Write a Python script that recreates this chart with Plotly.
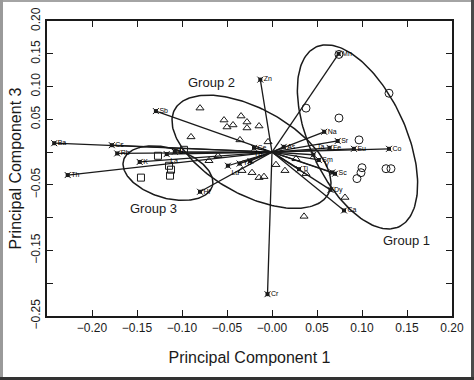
import numpy as np
import plotly.graph_objects as go

# ---- element loadings (biplot vectors) ----
elements = ["Ba", "Cs", "Rb", "Th", "K", "Sb", "Zn", "Mn", "Na", "Sr", "Fe", "Eu", "Co",
            "Ce", "Sm", "Sc", "V", "Ti", "Dy", "Ca", "Cr", "Hf", "Lu", "Yb", "Tb",
            "La", "U", "As", "Ta"]
load_x = [-0.242, -0.178, -0.172, -0.227, -0.147, -0.129, -0.013, 0.074, 0.058, 0.073, 0.064, 0.091, 0.130,
          -0.020, 0.052, 0.070, 0.067, 0.030, 0.065, 0.080, -0.005, -0.080, -0.049, -0.036, -0.024,
          -0.117, -0.108, 0.013, 0.046]
load_y = [0.0136, 0.0106, -0.002, -0.035, -0.015, 0.0626, 0.1106, 0.150, 0.031, 0.017, 0.0065, 0.005, 0.005,
          0.0065, -0.012, -0.033, -0.031, -0.026, -0.0576, -0.089, -0.2167, -0.0605, -0.0208, -0.0175, -0.0135,
          -0.003, 0.0005, 0.008, -0.004]
label_pos = ["middle right"] * len(elements)
label_pos[elements.index("V")] = "top left"
label_pos[elements.index("Lu")] = "bottom right"
label_pos[elements.index("Tb")] = "top right"
label_pos[elements.index("La")] = "bottom right"
label_pos[elements.index("Ta")] = "top right"

# ---- sample scores ----
g1_x = [0.0744, 0.130, 0.0378, 0.0744, 0.0967, 0.100, 0.0989, 0.0944, 0.1267, 0.1322]
g1_y = [0.149, 0.0898, 0.0671, 0.052, 0.0186, -0.0238, -0.0314, -0.0404, -0.0253, -0.0253]

g2_x = [-0.080, -0.0533, -0.050, -0.0433, -0.0344, -0.0278, -0.0278, -0.0144, -0.090, -0.0356, -0.0044,
        -0.060, -0.070, 0.0044, 0.0144, 0.0378, 0.0267, -0.0333, -0.0222, -0.0144, -0.0089, 0.0811, 0.0356]
g2_y = [0.0671, 0.0489, 0.0383, 0.0414, 0.055, 0.0459, 0.0368, 0.0398, 0.0232, 0.0186, 0.0156,
        -0.0056, -0.0132, -0.0192, -0.0283, -0.0329, -0.0102, -0.0283, -0.0314, -0.0389, -0.0374, -0.0692, -0.098]

g3_x = [-0.1267, -0.1144, -0.1122, -0.1133, -0.1456, -0.0978]
g3_y = [-0.0056, -0.0208, -0.0268, -0.0359, -0.0389, 0.0035]

# ---- group ellipses: centre and two conjugate semi-axes (data units) ----
groups = ["Group 1", "Group 2", "Group 3"]
ell_cx = [0.0950, -0.0228, -0.1156]
ell_cy = [0.0232, 0.0005, -0.0321]
ell_ux = [0.0440, 0.0852, 0.0493]
ell_uy = [-0.1382, -0.0647, -0.0200]
ell_vx = [-0.0503, -0.0233, -0.0080]
ell_vy = [-0.0250, -0.0572, -0.0364]
label_x = [0.1489, -0.0667, -0.1322]
label_y = [-0.1347, 0.1065, -0.0859]

# ---- axis ticks ----
x_tickvals = [-0.25, -0.20, -0.15, -0.10, -0.05, 0.0, 0.05, 0.10, 0.15, 0.20]
x_ticktext = ["", "−0.20", "−0.15", "−0.10", "−0.05", "−0.00", "0.05", "0.10", "0.15", "0.20"]
y_tickvals = [-0.25, -0.20, -0.15, -0.10, -0.05, 0.0, 0.05, 0.10, 0.15, 0.20]
y_ticktext = ["−0.25", "", "−0.15", "", "−0.05", "", "0.05", "0.10", "0.15", "0.20"]

FONT = "Liberation Sans, Arial, sans-serif"
INK = "#1a1a1a"

fig = go.Figure()

# vectors
vx, vy = [], []
for x, y in zip(load_x, load_y):
    vx += [0, x, None]
    vy += [0, y, None]
fig.add_trace(go.Scatter(x=vx, y=vy, mode="lines", line=dict(color=INK, width=1.3),
                         hoverinfo="skip", showlegend=False))

# ellipses
t = np.linspace(0, 2 * np.pi, 200)
for i in range(3):
    ex = ell_cx[i] + ell_ux[i] * np.cos(t) + ell_vx[i] * np.sin(t)
    ey = ell_cy[i] + ell_uy[i] * np.cos(t) + ell_vy[i] * np.sin(t)
    fig.add_trace(go.Scatter(x=ex, y=ey, mode="lines", line=dict(color=INK, width=1.5),
                             hoverinfo="skip", showlegend=False))

# samples
fig.add_trace(go.Scatter(x=g2_x, y=g2_y, mode="markers", showlegend=False,
                         marker=dict(symbol="triangle-up-open", size=7, color=INK, line=dict(width=1))))
fig.add_trace(go.Scatter(x=g3_x, y=g3_y, mode="markers", showlegend=False,
                         marker=dict(symbol="square-open", size=7, color=INK, line=dict(width=1))))
fig.add_trace(go.Scatter(x=g1_x, y=g1_y, mode="markers", showlegend=False,
                         marker=dict(symbol="circle-open", size=8, color=INK, line=dict(width=1))))

# element markers and labels
fig.add_trace(go.Scatter(x=load_x, y=load_y, mode="markers", showlegend=False,
                         marker=dict(symbol="x-thin-open", size=6, color=INK, line=dict(width=1, color=INK))))
fig.add_trace(go.Scatter(x=load_x, y=load_y, mode="markers+text", text=elements,
                         textposition=label_pos, showlegend=False,
                         textfont=dict(family=FONT, size=7, color="black"),
                         marker=dict(symbol="square", size=4, color=INK)))

for g, lx, ly in zip(groups, label_x, label_y):
    fig.add_annotation(x=lx, y=ly, text=g, showarrow=False,
                       font=dict(family=FONT, size=13, color=INK))

# image border (decorative frame)
W, H = 474, 380
ml, mr, mt, mb = 47, 22, 21, 64
pw, ph = W - ml - mr, H - mt - mb
def px(x):
    return (x - ml) / pw
def py(y):
    return 1 - (y - mt) / ph
for (x0, y0, x1, y1, c) in [(0, 0, W, 2, "#a4a4a4"), (0, 0, 3, H, "#9a9a9a"),
                            (W - 3, 0, W, H, "#4a4a4a"), (0, H - 3, W, H, "#333333")]:
    fig.add_shape(type="rect", xref="paper", yref="paper", x0=px(x0), x1=px(x1), y0=py(y1), y1=py(y0),
                  fillcolor=c, line=dict(width=0), layer="above")

axis_common = dict(showgrid=False, zeroline=False, showline=True, linecolor=INK, linewidth=1.5,
                   mirror="ticks", ticks="inside", ticklen=6, tickwidth=1.2, tickcolor=INK,
                   automargin=False, tickfont=dict(family=FONT, size=12, color=INK))
fig.update_xaxes(range=[-0.25, 0.20], tickvals=x_tickvals, ticktext=x_ticktext,
                 title=dict(text="Principal Component 1", font=dict(family=FONT, size=16, color=INK), standoff=18),
                 **axis_common)
fig.update_yaxes(range=[-0.25, 0.20], tickvals=y_tickvals, ticktext=y_ticktext, tickangle=-90,
                 title=dict(text="Principal Component 3", font=dict(family=FONT, size=16, color=INK), standoff=4),
                 **axis_common)
fig.update_layout(width=W, height=H, margin=dict(l=ml, r=mr, t=mt, b=mb, autoexpand=False),
                  paper_bgcolor="white", plot_bgcolor="white", showlegend=False, hovermode=False)

fig.write_html("out.html", config={"displayModeBar": False},
               post_script="document.body.style.margin='0';document.body.style.overflow='hidden';")
